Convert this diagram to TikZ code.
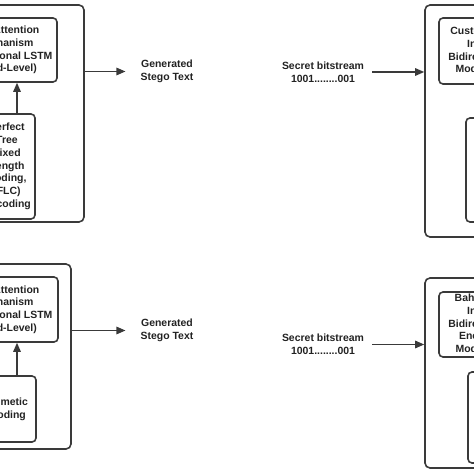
\documentclass[tikz,border=0pt]{standalone}
\usepackage{fontspec}
\setmainfont{Liberation Sans}
\usetikzlibrary{arrows.meta,positioning,calc}
\definecolor{ink}{HTML}{3A3A3A}
\definecolor{txt}{HTML}{222222}

\begin{document}
\begin{tikzpicture}[
  x=1bp, y=-1bp,
  panel/.style={draw=ink, line width=1.6bp, rounded corners=5bp, inner sep=0pt},
  box/.style={draw=ink, line width=1.6bp, rounded corners=4bp, inner sep=0pt, align=center,
    font=\fontsize{10.5}{12.8}\selectfont\bfseries, text=txt},
  lbl/.style={align=center, inner sep=0pt, font=\fontsize{10.5}{12.8}\selectfont\bfseries, text=txt},
  arr/.style={-{Triangle[length=9bp,width=7.5bp]}, draw=ink, line width=1.3bp}
]
\useasboundingbox (0,0) rectangle (474,474);
\clip (0,0) rectangle (474,474);

% left column
\node[panel, minimum width=144bp, minimum height=217bp] (encTop) at (12,113.5) {};
\node[box, minimum width=104bp, minimum height=64bp] (attnTop) at (5,50)
  {Self-Attention\\Mechanism\\Bidirectional LSTM\\(Word-Level)};
\node[box, minimum width=56bp, minimum height=105bp] (flcBox) at (7,166.5)
  {Perfect\\Tree\\Fixed\\Length\\Coding,\\(FLC)\\Encoding};

\node[panel, minimum width=131bp, minimum height=185bp] (encBot) at (5.5,356.5) {};
\node[box, minimum width=106bp, minimum height=65bp] (attnBot) at (5,309.5)
  {Self-Attention\\Mechanism\\Bidirectional LSTM\\(Word-Level)};
\node[box, minimum width=68bp, minimum height=66bp] (arith) at (2,409)
  {Arithmetic\\Encoding};

\coordinate (ax) at (17,0);
\draw[arr] (flcBox.north -| ax) -- (attnTop.south -| ax);
\draw[arr] (arith.north -| ax) -- (attnBot.south -| ax);

% outputs and inputs
\node[lbl] (stegoTop) at (167,71.5) {Generated\\Stego Text};
\node[lbl] (stegoBot) at (167,330.5) {Generated\\Stego Text};
\node[lbl] (secretTop) at (323,72) {Secret bitstream\\1001........001};
\node[lbl] (secretBot) at (323,344.5) {Secret bitstream\\1001........001};

% right column
\node[panel, minimum width=140bp, minimum height=232bp] (decTop) at (495,121) {};
\node[box, minimum width=82bp, minimum height=66bp] (custBox) at (480,51)
  {Customized\\Input\\Bidirectional\\Modelling};
\node[box, minimum width=88bp, minimum height=104bp] (lowTop) at (510,170) {};

\node[panel, minimum width=140bp, minimum height=190bp] (decBot) at (495,373) {};
\node[box, minimum width=82bp, minimum height=65bp] (bahdBox) at (480,324.5)
  {Bahdanau\\Input\\Bidirectional\\Encoder\\Modelling};
\node[box, minimum width=88bp, minimum height=91bp] (lowBot) at (512,417.5) {};

\draw[arr] (stegoTop.west -| encTop.east) -- ([xshift=-15bp]stegoTop.west);
\draw[arr] (stegoBot.west -| encBot.east) -- ([xshift=-15bp]stegoBot.west);
\draw[arr] ([xshift=8bp]secretTop.east) -- (secretTop.east -| decTop.west);
\draw[arr] ([xshift=8bp]secretBot.east) -- (secretBot.east -| decBot.west);

\end{tikzpicture}
\end{document}
